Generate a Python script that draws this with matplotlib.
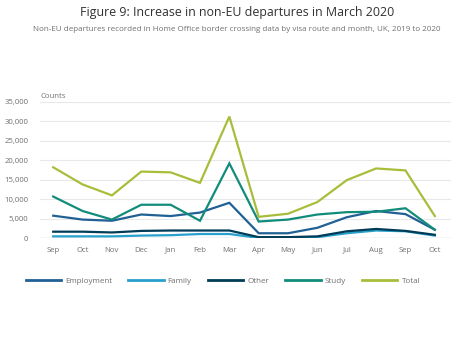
import matplotlib
matplotlib.use("Agg")
import numpy as np
import matplotlib.pyplot as plt
from matplotlib.lines import Line2D

months = ["Sep", "Oct", "Nov", "Dec", "Jan", "Feb", "Mar",
          "Apr", "May", "Jun", "Jul", "Aug", "Sep", "Oct"]

employment = [5800, 4800, 4500, 6100, 5700, 6600, 9100, 1300, 1300, 2700, 5400, 7000, 6200, 2200]
family     = [500, 500, 500, 700, 800, 1100, 1100, 100, 100, 300, 1300, 2000, 1800, 700]
other      = [1700, 1700, 1500, 1900, 2000, 2000, 2000, 300, 300, 500, 1800, 2400, 1900, 900]
study      = [10700, 7000, 4800, 8600, 8600, 4500, 19200, 4300, 4800, 6100, 6700, 6800, 7700, 2200]
total      = [18200, 13800, 11000, 17100, 16900, 14200, 31200, 5500, 6300, 9300, 14900, 17900, 17400, 5700]

series = [
    ("Employment", employment, "#206095"),
    ("Family", family, "#27A0CC"),
    ("Other", other, "#003C57"),
    ("Study", study, "#118C7B"),
    ("Total", total, "#A8BD3A"),
]

plt.rcParams["font.family"] = ["Open Sans", "DejaVu Sans"]
GREY = "#707070"

fig = plt.figure(figsize=(4.74, 3.39), dpi=100)
ax = fig.add_axes([0.0844, 0.297, 0.867, 0.403])

x = np.arange(len(months))
for name, vals, col in series:
    ax.plot(x, vals, color=col, lw=1.6, label=name, solid_joinstyle="miter")

ax.set_xlim(-0.45, 13.55)
ax.set_ylim(0, 35000)
ax.set_yticks(np.arange(0, 35001, 5000))
ax.set_yticklabels([f"{v:,}" for v in range(0, 35001, 5000)])
ax.set_xticks(x)
ax.set_xticklabels(months)
ax.tick_params(axis="both", length=0, labelsize=5.6, colors=GREY, pad=6)
ax.tick_params(axis="y", pad=8.5)
for s in ax.spines.values():
    s.set_visible(False)
ax.grid(axis="y", color="#e8e8e8", lw=0.8)
ax.axhline(0, color="#d0d6dc", lw=1.0, zorder=0)
ax.set_axisbelow(True)

ax.text(0, 1.01, "Counts", transform=ax.transAxes, fontsize=5.6, color=GREY,
        ha="left", va="bottom")

fig.text(0.5, 0.962, "Figure 9: Increase in non-EU departures in March 2020",
         ha="center", va="center", fontsize=8.9, color="#323132")
fig.text(0.5, 0.914, "Non-EU departures recorded in Home Office border crossing data by visa route and month, UK, 2019 to 2020",
         ha="center", va="center", fontsize=5.8, color=GREY)

handles = [Line2D([], [], color=c, lw=2) for _, _, c in series]
fig.legend(handles, [n for n, _, _ in series], loc="center", bbox_to_anchor=(0.47, 0.17),
           ncol=5, frameon=False, fontsize=5.8, labelcolor=GREY, handlelength=4.4,
           columnspacing=2.0, handletextpad=0.5)

fig.savefig("out.png", dpi=100)
